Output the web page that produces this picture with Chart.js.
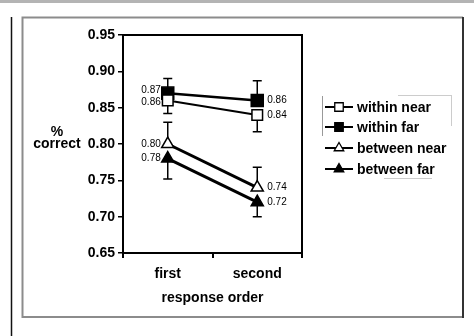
<!DOCTYPE html>
<html>
<head>
<meta charset="utf-8">
<script src="https://cdn.jsdelivr.net/npm/chart.js@4"></script>
<style>
  html, body { margin: 0; padding: 0; background: #fff; }
</style>
</head>
<body>
<canvas id="myChart" width="474" height="336"></canvas>
<script>
const categories = ["first", "second"];
const seriesNames = ["within near", "within far", "between near", "between far"];
const withinNear = [0.86, 0.84];
const withinFar = [0.87, 0.86];
const betweenNear = [0.80, 0.74];
const betweenFar = [0.78, 0.72];
// error bars: half lengths, each series only draws one side
const withinNearErr = [0.018, 0.023];
const withinFarErr = [0.02, 0.027];
const betweenNearErr = [0.03, 0.028];
const betweenFarErr = [0.028, 0.02];
const yTicks = [0.65, 0.70, 0.75, 0.80, 0.85, 0.90, 0.95];

const FONT = "'Liberation Sans', Arial, Helvetica, sans-serif";

function series(label, values, err, dir, style, filled, radius, width, shift) {
  return {
    label: label,
    data: values,
    err: err,
    errDir: dir,
    labelShift: shift, // vertical nudge of the value labels so they don't collide
    borderColor: "#000",
    backgroundColor: filled ? "#000" : "#fff",
    borderWidth: width,
    pointStyle: style,
    pointRadius: radius,
    pointBorderWidth: 1.5,
    pointBorderColor: "#000",
    pointBackgroundColor: filled ? "#000" : "#fff",
    tension: 0
  };
}

const decor = {
  id: "decor",
  beforeDraw(chart) {
    const ctx = chart.ctx;
    ctx.save();
    // page edge and outer frame
    ctx.strokeStyle = "#b4b4b4";
    ctx.lineWidth = 3;
    ctx.beginPath(); ctx.moveTo(0, 1.5); ctx.lineTo(474, 1.5); ctx.stroke();
    ctx.strokeStyle = "#111";
    ctx.lineWidth = 1.5;
    ctx.beginPath(); ctx.moveTo(11.5, 17); ctx.lineTo(11.5, 336); ctx.stroke();
    ctx.strokeStyle = "#8c8c8c";
    ctx.lineWidth = 2;
    ctx.beginPath();
    ctx.moveTo(463, 17.5); ctx.lineTo(22.5, 17.5); ctx.lineTo(22.5, 317); ctx.lineTo(463, 317);
    ctx.stroke();
    ctx.strokeStyle = "#333";
    ctx.beginPath(); ctx.moveTo(463, 17); ctx.lineTo(463, 318); ctx.stroke();

    // legend border remnants
    ctx.lineWidth = 1;
    ctx.strokeStyle = "#999";
    ctx.beginPath(); ctx.moveTo(322.5, 96); ctx.lineTo(322.5, 136); ctx.stroke();
    ctx.strokeStyle = "#ccc";
    ctx.beginPath(); ctx.moveTo(398, 95.5); ctx.lineTo(452, 95.5); ctx.stroke();
    ctx.beginPath(); ctx.moveTo(451.5, 96); ctx.lineTo(451.5, 126); ctx.stroke();
    ctx.beginPath(); ctx.moveTo(384, 178.5); ctx.lineTo(432, 178.5); ctx.stroke();
    ctx.restore();
  },
  beforeDatasetsDraw(chart) {
    const ctx = chart.ctx;
    const y = chart.scales.y;
    ctx.save();
    ctx.strokeStyle = "#000";
    ctx.lineWidth = 1.5;
    chart.data.datasets.forEach((ds, i) => {
      const meta = chart.getDatasetMeta(i);
      meta.data.forEach((pt, j) => {
        const end = y.getPixelForValue(ds.data[j] + ds.errDir * ds.err[j]);
        ctx.beginPath();
        ctx.moveTo(pt.x, pt.y); ctx.lineTo(pt.x, end);
        ctx.moveTo(pt.x - 4.5, end); ctx.lineTo(pt.x + 4.5, end);
        ctx.stroke();
      });
    });
    ctx.restore();
  },
  afterDraw(chart) {
    const ctx = chart.ctx;
    const a = chart.chartArea;
    ctx.save();
    // top and right sides of the plot box
    ctx.strokeStyle = "#000";
    ctx.lineWidth = 2;
    ctx.beginPath();
    ctx.moveTo(a.left, a.top); ctx.lineTo(a.right, a.top); ctx.lineTo(a.right, a.bottom);
    ctx.stroke();

    // value labels beside the points
    ctx.fillStyle = "#000";
    ctx.font = "10px " + FONT;
    ctx.textBaseline = "middle";
    chart.data.datasets.forEach((ds, i) => {
      chart.getDatasetMeta(i).data.forEach((pt, j) => {
        const txt = ds.data[j].toFixed(2);
        const ly = pt.y + ds.labelShift[j];
        if (j === 0) { ctx.textAlign = "right"; ctx.fillText(txt, pt.x - 7, ly); }
        else { ctx.textAlign = "left"; ctx.fillText(txt, pt.x + 10, ly); }
      });
    });

    // y axis caption, horizontal
    ctx.font = "bold 14px " + FONT;
    ctx.textAlign = "center";
    ctx.fillText("%", 57, 132);
    ctx.fillText("correct", 57, 144);

    // legend: line sample with marker, then name
    ctx.textAlign = "left";
    const rows = [107, 127, 148, 169];
    chart.data.datasets.forEach((ds, i) => {
      const ly = rows[i];
      ctx.strokeStyle = "#000";
      ctx.lineWidth = 2;
      ctx.beginPath(); ctx.moveTo(325, ly); ctx.lineTo(353, ly); ctx.stroke();
      ctx.fillStyle = ds.pointBackgroundColor;
      ctx.lineWidth = 1.3;
      Chart.helpers.drawPoint(ctx, {
        pointStyle: ds.pointStyle,
        radius: ds.pointStyle === "rect" ? 6 : 5.5,
        rotation: 0,
        borderWidth: 1.3
      }, 339, ly);
      ctx.fillStyle = "#000";
      ctx.fillText(ds.label, 357, ly + 1);
    });
    ctx.restore();
  }
};

const config = {
  type: "line",
  data: {
    labels: categories,
    datasets: [
      series(seriesNames[0], withinNear, withinNearErr, -1, "rect", false, 7.5, 2, [1.5, 0]),
      series(seriesNames[1], withinFar, withinFarErr, 1, "rect", true, 8.5, 2.5, [-2.5, 0]),
      series(seriesNames[2], betweenNear, betweenNearErr, 1, "triangle", false, 7, 3, [0, 0]),
      series(seriesNames[3], betweenFar, betweenFarErr, -1, "triangle", true, 7, 3, [0, 0])
    ]
  },
  options: {
    responsive: false,
    animation: false,
    devicePixelRatio: 1,
    layout: { padding: { top: 35, right: 172, bottom: 23, left: 0 } },
    plugins: { legend: { display: false }, tooltip: { enabled: false } },
    scales: {
      x: {
        offset: true,
        grid: { offset: true, drawOnChartArea: false, drawTicks: true, tickLength: 5, color: "#000", lineWidth: 2 },
        border: { color: "#000", width: 2 },
        ticks: { color: "#000", padding: 8, font: { family: FONT, size: 14, weight: "bold" } },
        title: {
          display: true,
          text: "response order",
          color: "#000",
          padding: { top: 0, bottom: 6 },
          font: { family: FONT, size: 14, weight: "bold" }
        },
        afterFit: s => { s.height = 60; }
      },
      y: {
        min: 0.65,
        max: 0.95,
        grid: { drawOnChartArea: false, drawTicks: true, tickLength: 5, color: "#000", lineWidth: 1.5 },
        border: { color: "#000", width: 2 },
        ticks: {
          color: "#000",
          padding: 3,
          font: { family: FONT, size: 14, weight: "bold" },
          callback: v => Number(v).toFixed(2)
        },
        afterBuildTicks: s => { s.ticks = yTicks.map(v => ({ value: v })); },
        afterFit: s => { s.width = 123; }
      }
    }
  },
  plugins: [decor]
};

new Chart(document.getElementById("myChart").getContext("2d"), config);
</script>
</body>
</html>
